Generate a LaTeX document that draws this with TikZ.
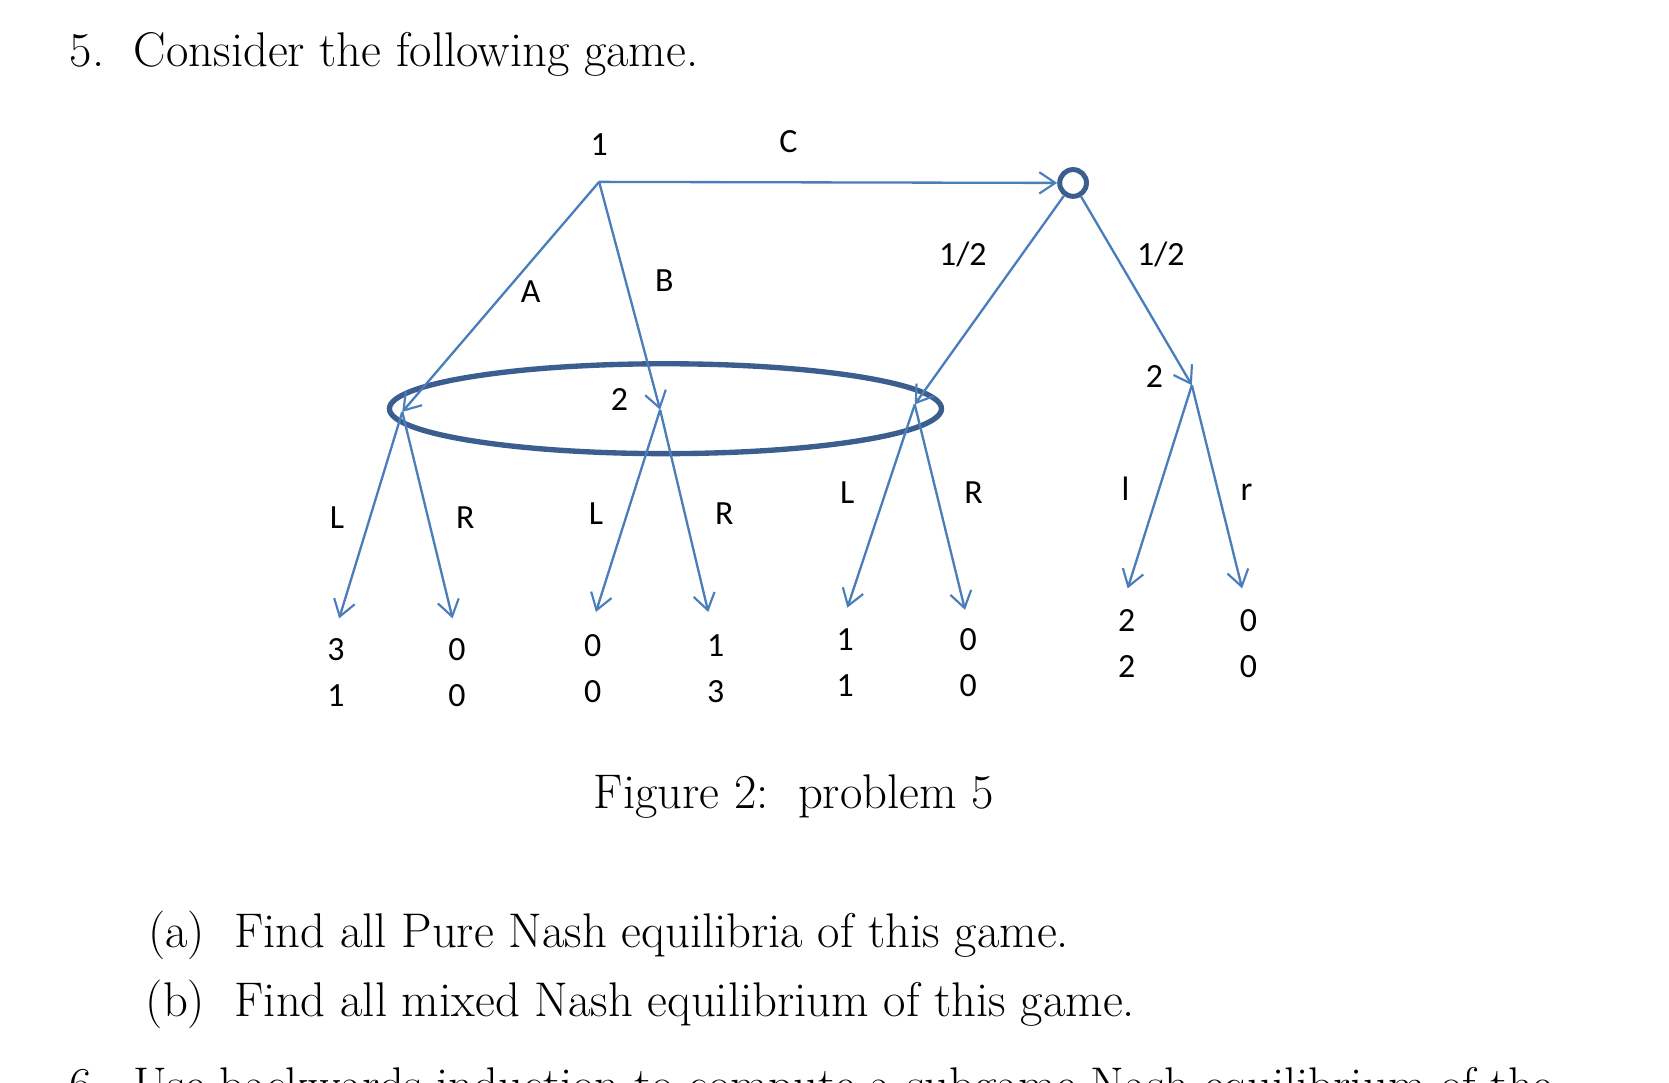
\documentclass[tikz,border=0pt]{standalone}
\usepackage{fontspec}
\newfontfamily\lab{Carlito}
\usetikzlibrary{arrows.meta}
\definecolor{ar}{HTML}{4A7EBB}
\definecolor{el}{HTML}{3B5E8F}
\begin{document}
\begin{tikzpicture}[x=0.6pt,y=-0.6pt,
  edge/.style={draw=ar,line width=1.3pt,-{Straight Barb[length=9pt,width=12pt,line width=1.2pt]}},
  lbl/.style={font=\lab\fontsize{19}{22}\selectfont,inner sep=0pt},
  txt/.style={font=\fontsize{27.3}{32}\selectfont,anchor=base west,inner sep=0pt}]
\clip (0,0) rectangle (1560,1012);
\fill[white] (0,0) rectangle (1560,1012);
\node[txt] (title) at (65,62) {5.\ \ Consider the following game.};
\coordinate (root) at (560,170);
\node[draw=el,line width=2.8pt,circle,minimum size=15pt,inner sep=0pt] (ch) at (1003,171) {};
\coordinate (nA) at (376,385);
\coordinate (nB) at (617,383);
\coordinate (nC) at (855,378);
\coordinate (nD) at (1114,360);
\draw[el,line width=3pt] (622,382) ellipse [x radius=258,y radius=42];
\draw[edge] (root) -- (ch);
\draw[edge] (root) -- (nA);
\draw[edge] (root) -- (nB);
\draw[edge] (ch) -- (nC);
\draw[edge] (ch) -- (nD);
\foreach \n/\a/\b in {nA/317/578, nA/423/578, nB/557/572, nB/662/572, nC/792/568, nC/902/570, nD/1054/550, nD/1161/550}
  {\coordinate (t\a) at (\a,\b); \draw[edge] (\n) -- (t\a);}
\node[lbl] (l1) at (560,135) {1};
\node[lbl] (lC) at (737,132) {C};
\node[lbl] (lA) at (496,273) {A};
\node[lbl] (lB) at (621,262) {B};
\node[lbl] (h1) at (900,238) {1/2};
\node[lbl] (h2) at (1085,238) {1/2};
\node[lbl] (p2a) at (579,373) {2};
\node[lbl] (p2b) at (1079,352) {2};
\node[lbl] (a1) at (315,484) {L};
\node[lbl] (a2) at (435,484) {R};
\node[lbl] (a3) at (557,480) {L};
\node[lbl] (a4) at (677,480) {R};
\node[lbl] (a5) at (792,460) {L};
\node[lbl] (a6) at (910,460) {R};
\node[lbl] (a7) at (1052,457) {l};
\node[lbl] (a8) at (1165,460) {r};
\foreach \x/\y/\u/\v in {314/607/3/1, 427/607/0/0, 554/603/0/0, 669/603/1/3, 790/598/1/1, 905/598/0/0, 1053/580/2/2, 1167/580/0/0}
  {\node[lbl] at (\x,\y) {\u}; \node[lbl] at (\x,\y+43) {\v};}
\node[font=\fontsize{27.3}{32}\selectfont,inner sep=0pt,anchor=base] (cap) at (742,756) {Figure 2:\ \ problem 5};
\node[txt] (qa) at (138,886) {(a)\ \ Find all Pure Nash equilibria of this game.};
\node[txt] (qb) at (136,950) {(b)\ \ Find all mixed Nash equilibrium of this game.};
\node[txt] (q6) at (65,1030) {6.\ \ Use backwards induction to compute a subgame Nash equilibrium of the};
\end{tikzpicture}
\end{document}
